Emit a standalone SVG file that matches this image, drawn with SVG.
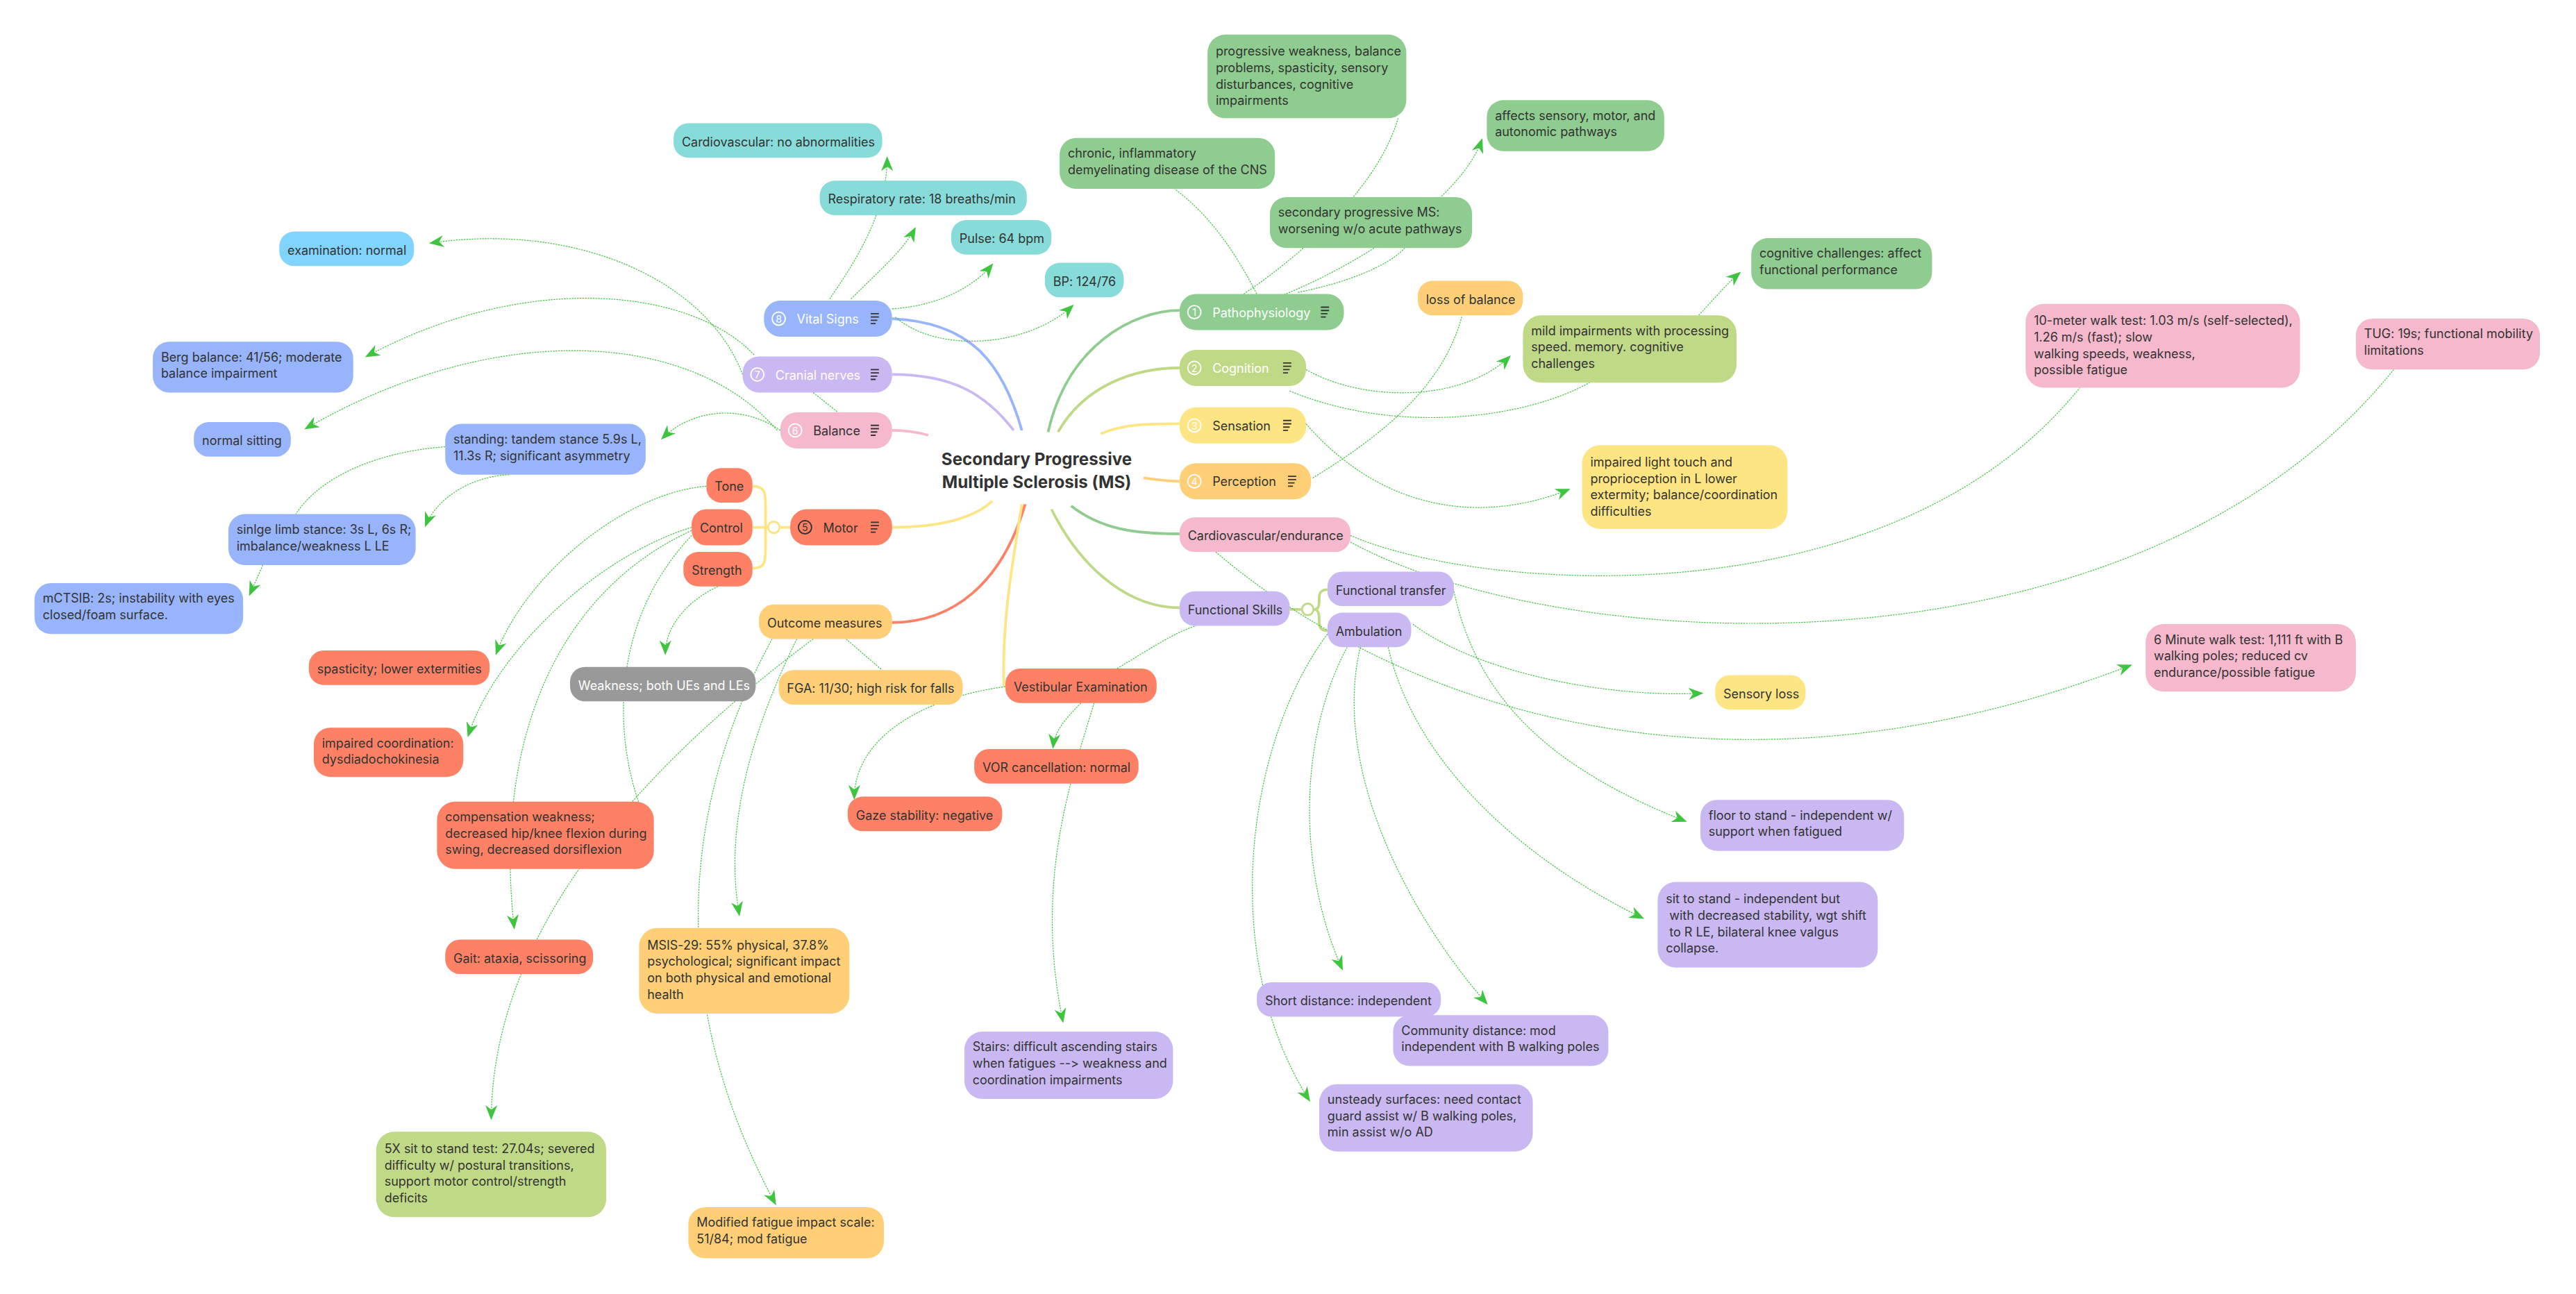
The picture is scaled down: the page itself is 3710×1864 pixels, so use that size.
<svg xmlns="http://www.w3.org/2000/svg" width="3710" height="1864" viewBox="0 0 3710 1864">
<style>
text{font-family:Inter,"Noto Sans","Liberation Sans",sans-serif;font-size:7.6px;fill:#333;font-feature-settings:"calt" 0,"liga" 0}
.w{fill:#fff}
.t{fill:#87dbd9}.lb{fill:#80d4fd}.b{fill:#98b4fb}.p{fill:#c9b8f2}.pk{fill:#f5b8cc}.s{fill:#fe8165}.o{fill:#fecf77}.g{fill:#8fcc8f}.lg{fill:#c0d987}.y{fill:#fee583}.gr{fill:#999}
.d{fill:none;stroke:#3ec43e;stroke-width:0.5;stroke-dasharray:1 0.6}
.a{marker-end:url(#ar)}
.br{fill:none;stroke-width:1.6}
.num{fill:none;stroke:#fff;stroke-width:0.8}
.ic{stroke:#333;stroke-width:0.8}
</style>
<defs>
<marker id="ar" viewBox="0 0 10 10" refX="9" refY="5" markerWidth="9" markerHeight="9" orient="auto" markerUnits="userSpaceOnUse"><path d="M0,1 L10,5 L0,9 L3,5 Z" fill="#3ec43e"/></marker>
</defs>
<rect width="3710" height="1864" fill="#fff"/>
<g transform="scale(2.3661)">
<g id="connectors">
<path class="br" stroke="#98b4fb" d="M622,262 C610,220 590,196 543,194"/>
<path class="br" stroke="#c9b8f2" d="M617,262 C600,240 580,228 543,228"/>
<path class="br" stroke="#f5b8cc" d="M543,262 C550,262 558,263 565,265"/>
<path class="br" stroke="#fee583" d="M604,305 C590,318 565,321 543,321"/>
<path class="br" stroke="#fe8165" d="M624,307 C610,355 580,379 543,379"/>
<path class="br" stroke="#fee583" d="M622,307 C615,350 610,380 611,418"/>
<path class="br" stroke="#8fcc8f" d="M638,263 C650,210 690,189 718,189"/>
<path class="br" stroke="#c0d987" d="M644,263 C660,235 690,224 718,224"/>
<path class="br" stroke="#fee583" d="M670,264 C685,258 700,258 718,258"/>
<path class="br" stroke="#fecf77" d="M696,291 C705,292 710,293 718,293"/>
<path class="br" stroke="#8fcc8f" d="M652,308 C670,322 690,325 718,325"/>
<path class="br" stroke="#c0d987" d="M640,310 C660,350 690,370 718,370"/>
<path class="br" stroke="#fee583" d="M481,321 L475,321 M467,321 L458,321 M458,296 C466,296 466,300 466,310 L466,332 C466,342 466,346 458,346"/>
<circle cx="471" cy="321" r="3.5" fill="#fff" stroke="#fee583" stroke-width="1.2"/>
<path class="br" stroke="#c0d987" d="M785,371 L792,371 M800,371 C803,371 803,368 803,364 C803,360 805,359 808,359 M800,371 C803,371 803,375 803,379 C803,383 805,384 808,384"/>
<circle cx="796" cy="371" r="3.5" fill="#fff" stroke="#c0d987" stroke-width="1.2"/>
<path class="d a" d="M505,182 C520,160 540,130 540,96"/>
<path class="d a" d="M518,182 C535,165 550,152 557,139"/>
<path class="d a" d="M543,188 C575,186 595,172 604,161"/>
<path class="d a" d="M545,193 C570,215 625,212 653,186"/>
<path class="d a" d="M459,216 C420,175 320,165 223,217"/>
<path class="d a" d="M452,228 C430,170 350,135 262,148"/>
<path class="d a" d="M473,262 C420,200 300,195 186,261"/>
<path class="d" d="M495,239 L510,251"/>
<path class="d a" d="M475,262 C450,245 420,250 403,267"/>
<path class="d a" d="M310,289 C285,290 265,305 259,320"/>
<path class="d" d="M271,272 C230,275 195,290 180,313"/>
<path class="d a" d="M160,344 L152,362"/>
<path class="d a" d="M430,296 C380,300 320,350 302,398"/>
<path class="d a" d="M421,321 C360,340 300,400 285,448"/>
<path class="d a" d="M421,323 C340,360 300,450 313,565"/>
<path class="d" d="M421,326 C370,380 375,450 389,489"/>
<path class="d a" d="M437,357 C420,365 405,380 405,398"/>
<path class="d a" d="M495,389 C400,460 300,560 299,681"/>
<path class="d a" d="M485,389 C460,440 440,500 450,557"/>
<path class="d a" d="M470,389 C420,480 400,600 472,733"/>
<path class="d" d="M515,389 L537,408"/>
<path class="d a" d="M612,418 C560,425 520,450 520,486"/>
<path class="d a" d="M658,428 C648,438 642,445 641,455"/>
<path class="d a" d="M666,428 C650,480 630,540 647,622"/>
<path class="d" d="M680,407 C700,395 715,385 728,381"/>
<path class="d" d="M765,179 C750,150 735,130 715,115"/>
<path class="d" d="M757,179 C800,150 840,110 851,72"/>
<path class="d a" d="M780,180 C830,160 890,120 902,85"/>
<path class="d" d="M790,178 C820,172 845,162 855,151"/>
<path class="d a" d="M795,225 C830,245 890,245 919,217"/>
<path class="d" d="M785,238 C850,265 930,255 969,232"/>
<path class="d a" d="M1034,192 C1045,180 1052,172 1059,166"/>
<path class="d" d="M799,291 C850,260 880,230 890,192"/>
<path class="d a" d="M795,258 C840,310 900,320 955,298"/>
<path class="d" d="M822,326 C900,360 1150,380 1266,236"/>
<path class="d" d="M822,330 C950,400 1300,420 1457,225"/>
<path class="d a" d="M740,336 C850,430 1050,500 1297,405"/>
<path class="d a" d="M860,380 C900,410 980,425 1036,422"/>
<path class="d a" d="M885,360 C900,430 950,470 1026,500"/>
<path class="d a" d="M845,394 C860,460 920,520 1000,559"/>
<path class="d a" d="M828,394 C810,470 860,560 905,611"/>
<path class="d a" d="M820,394 C790,450 790,530 817,590"/>
<path class="d a" d="M808,386 C760,450 740,580 797,670"/>
</g>
<g id="center"><text x="631" y="283" text-anchor="middle" style="font-size:10.2px;font-weight:700">Secondary Progressive</text><text x="631" y="297" text-anchor="middle" style="font-size:10.2px;font-weight:700">Multiple Sclerosis (MS)</text></g>
<g id="vital"><rect class="b" x="465" y="183" width="78" height="22" rx="10"/><circle class="num" cx="474" cy="194" r="4"/><text class="w" x="474" y="196.5" text-anchor="middle" style="font-size:6px">8</text><text class="w" x="485" y="197">Vital Signs</text><path class="ic" d="M530,191h5M530,193h5M530,195h4M530,197h3"/></g>
<g id="cranial"><rect class="p" x="452" y="217" width="91" height="22" rx="10"/><circle class="num" cx="461" cy="228" r="4"/><text class="w" x="461" y="230.5" text-anchor="middle" style="font-size:6px">7</text><text class="w" x="472" y="231">Cranial nerves</text><path class="ic" d="M530,225h5M530,227h5M530,229h4M530,231h3"/></g>
<g id="balance"><rect class="pk" x="475" y="251" width="68" height="22" rx="10"/><circle class="num" cx="484" cy="262" r="4"/><text class="w" x="484" y="264.5" text-anchor="middle" style="font-size:6px">6</text><text x="495" y="265">Balance</text><path class="ic" d="M530,259h5M530,261h5M530,263h4M530,265h3"/></g>
<g id="motor"><rect class="s" x="481" y="310" width="62" height="22" rx="10"/><circle cx="490" cy="321" r="4" fill="none" stroke="#333" stroke-width="0.8"/><text x="490" y="323.5" text-anchor="middle" style="font-size:6px">5</text><text x="501" y="324">Motor</text><path class="ic" d="M530,318h5M530,320h5M530,322h4M530,324h3"/></g>
<g id="tone"><rect class="s" x="430" y="285" width="28" height="21" rx="9"/><text x="435" y="299">Tone</text></g>
<g id="control"><rect class="s" x="421" y="310" width="37" height="22" rx="9"/><text x="426" y="324">Control</text></g>
<g id="strength"><rect class="s" x="416" y="336" width="42" height="21" rx="9"/><text x="421" y="350">Strength</text></g>
<g id="outcome"><rect class="o" x="462" y="368" width="81" height="21" rx="9"/><text x="467" y="382">Outcome measures</text></g>
<g id="patho"><rect class="g" x="718" y="179" width="100" height="22" rx="10"/><circle class="num" cx="727" cy="190" r="4"/><text class="w" x="727" y="192.5" text-anchor="middle" style="font-size:6px">1</text><text class="w" x="738" y="193">Pathophysiology</text><path class="ic" d="M804,187h5M804,189h5M804,191h4M804,193h3"/></g>
<g id="cognition"><rect class="lg" x="718" y="213" width="77" height="22" rx="10"/><circle class="num" cx="727" cy="224" r="4"/><text class="w" x="727" y="226.5" text-anchor="middle" style="font-size:6px">2</text><text class="w" x="738" y="227">Cognition</text><path class="ic" d="M781,221h5M781,223h5M781,225h4M781,227h3"/></g>
<g id="sensation"><rect class="y" x="718" y="248" width="77" height="22" rx="10"/><circle class="num" cx="727" cy="259" r="4"/><text class="w" x="727" y="261.5" text-anchor="middle" style="font-size:6px">3</text><text x="738" y="262">Sensation</text><path class="ic" d="M781,256h5M781,258h5M781,260h4M781,262h3"/></g>
<g id="perception"><rect class="o" x="718" y="282" width="80" height="22" rx="10"/><circle class="num" cx="727" cy="293" r="4"/><text class="w" x="727" y="295.5" text-anchor="middle" style="font-size:6px">4</text><text x="738" y="296">Perception</text><path class="ic" d="M784,290h5M784,292h5M784,294h4M784,296h3"/></g>
<g id="cardio"><rect class="pk" x="718" y="315" width="104" height="21" rx="9"/><text x="723" y="329">Cardiovascular/endurance</text></g>
<g id="functional"><rect class="p" x="718" y="360" width="67" height="21" rx="9"/><text x="723" y="374">Functional Skills</text></g>
<g id="ftransfer"><rect class="p" x="808" y="348" width="77" height="21" rx="9"/><text x="813" y="362">Functional transfer</text></g>
<g id="ambulation"><rect class="p" x="808" y="373" width="51" height="21" rx="9"/><text x="813" y="387">Ambulation</text></g>
<g id="vestibular"><rect class="s" x="612" y="407" width="92" height="21" rx="9"/><text x="617" y="421">Vestibular Examination</text></g>
<g id="cvnorm"><rect class="t" x="410" y="75" width="127" height="21" rx="9"/><text x="415" y="89">Cardiovascular: no abnormalities</text></g>
<g id="resp"><rect class="t" x="499" y="110" width="126" height="21" rx="9"/><text x="504" y="124">Respiratory rate: 18 breaths/min</text></g>
<g id="pulse"><rect class="t" x="579" y="134" width="61" height="21" rx="9"/><text x="584" y="148">Pulse: 64 bpm</text></g>
<g id="bp"><rect class="t" x="636" y="160" width="48" height="21" rx="9"/><text x="641" y="174">BP: 124/76</text></g>
<g id="exam"><rect class="lb" x="170" y="141" width="82" height="21" rx="9"/><text x="175" y="155">examination: normal</text></g>
<g id="berg"><rect class="b" x="93" y="208" width="122" height="31" rx="10"/><text x="98" y="220">Berg balance: 41/56; moderate</text><text x="98" y="230">balance impairment</text></g>
<g id="sitting"><rect class="b" x="118" y="257" width="59" height="21" rx="9"/><text x="123" y="271">normal sitting</text></g>
<g id="standing"><rect class="b" x="271" y="258" width="122" height="31" rx="10"/><text x="276" y="270">standing: tandem stance 5.9s L,</text><text x="276" y="280">11.3s R; significant asymmetry</text></g>
<g id="single"><rect class="b" x="139" y="313" width="114" height="31" rx="10"/><text x="144" y="325">sinlge limb stance: 3s L, 6s R;</text><text x="144" y="335">imbalance/weakness L LE</text></g>
<g id="mctsib"><rect class="b" x="21" y="355" width="127" height="31" rx="10"/><text x="26" y="367">mCTSIB: 2s; instability with eyes</text><text x="26" y="377">closed/foam surface.</text></g>
<g id="spasticity"><rect class="s" x="188" y="396" width="110" height="21" rx="9"/><text x="193" y="410">spasticity; lower extermities</text></g>
<g id="coord"><rect class="s" x="191" y="443" width="91" height="30" rx="10"/><text x="196" y="455">impaired coordination:</text><text x="196" y="465">dysdiadochokinesia</text></g>
<g id="weakness"><rect class="gr" x="347" y="406" width="113" height="21" rx="9"/><text class="w" x="352" y="420">Weakness; both UEs and LEs</text></g>
<g id="fga"><rect class="o" x="474" y="408" width="112" height="21" rx="9"/><text x="479" y="422">FGA: 11/30; high risk for falls</text></g>
<g id="vor"><rect class="s" x="593" y="456" width="100" height="21" rx="9"/><text x="598" y="470">VOR cancellation: normal</text></g>
<g id="gaze"><rect class="s" x="516" y="485" width="94" height="21" rx="9"/><text x="521" y="499">Gaze stability: negative</text></g>
<g id="comp"><rect class="s" x="266" y="488" width="132" height="41" rx="11"/><text x="271" y="500">compensation weakness;</text><text x="271" y="510">decreased hip/knee flexion during</text><text x="271" y="520">swing, decreased dorsiflexion</text></g>
<g id="gait"><rect class="s" x="271" y="572" width="90" height="21" rx="9"/><text x="276" y="586">Gait: ataxia, scissoring</text></g>
<g id="msis"><rect class="o" x="389" y="565" width="128" height="52" rx="11"/><text x="394" y="578">MSIS-29: 55% physical, 37.8%</text><text x="394" y="588">psychological; significant impact</text><text x="394" y="598">on both physical and emotional</text><text x="394" y="608">health</text></g>
<g id="fivex"><rect class="lg" x="229" y="689" width="140" height="52" rx="11"/><text x="234" y="702">5X sit to stand test: 27.04s; severed</text><text x="234" y="712">difficulty w/ postural transitions,</text><text x="234" y="722">support motor control/strength</text><text x="234" y="732">deficits</text></g>
<g id="mfis"><rect class="o" x="419" y="735" width="119" height="31" rx="10"/><text x="424" y="747">Modified fatigue impact scale:</text><text x="424" y="757">51/84; mod fatigue</text></g>
<g id="stairs"><rect class="p" x="587" y="628" width="127" height="41" rx="11"/><text x="592" y="640">Stairs: difficult ascending stairs</text><text x="592" y="650">when fatigues --&gt; weakness and</text><text x="592" y="660">coordination impairments</text></g>
<g id="short"><rect class="p" x="765" y="598" width="112" height="21" rx="9"/><text x="770" y="612">Short distance: independent</text></g>
<g id="community"><rect class="p" x="848" y="618" width="131" height="31" rx="10"/><text x="853" y="630">Community distance: mod</text><text x="853" y="640">independent with B walking poles</text></g>
<g id="unsteady"><rect class="p" x="803" y="660" width="130" height="41" rx="11"/><text x="808" y="672">unsteady surfaces: need contact</text><text x="808" y="682">guard assist w/ B walking poles,</text><text x="808" y="692">min assist w/o AD</text></g>
<g id="sitstand"><rect class="p" x="1009" y="537" width="134" height="52" rx="11"/><text x="1014" y="550">sit to stand - independent but</text><text x="1014" y="560" xml:space="preserve"> with decreased stability, wgt shift</text><text x="1014" y="570" xml:space="preserve"> to R LE, bilateral knee valgus</text><text x="1014" y="580">collapse.</text></g>
<g id="floor"><rect class="p" x="1035" y="487" width="124" height="31" rx="10"/><text x="1040" y="499">floor to stand - independent w/</text><text x="1040" y="509">support when fatigued</text></g>
<g id="sensory"><rect class="y" x="1044" y="411" width="55" height="21" rx="9"/><text x="1049" y="425">Sensory loss</text></g>
<g id="sixmin"><rect class="pk" x="1306" y="380" width="128" height="41" rx="11"/><text x="1311" y="392">6 Minute walk test: 1,111 ft with B</text><text x="1311" y="402">walking poles; reduced cv</text><text x="1311" y="412">endurance/possible fatigue</text></g>
<g id="tenm"><rect class="pk" x="1233" y="185" width="167" height="51" rx="11"/><text x="1238" y="198">10-meter walk test: 1.03 m/s (self-selected),</text><text x="1238" y="208">1.26 m/s (fast); slow</text><text x="1238" y="218">walking speeds, weakness,</text><text x="1238" y="228">possible fatigue</text></g>
<g id="tug"><rect class="pk" x="1434" y="194" width="112" height="31" rx="10"/><text x="1439" y="206">TUG: 19s; functional mobility</text><text x="1439" y="216">limitations</text></g>
<g id="light"><rect class="y" x="963" y="271" width="125" height="51" rx="11"/><text x="968" y="284">impaired light touch and</text><text x="968" y="294">proprioception in L lower</text><text x="968" y="304">extermity; balance/coordination</text><text x="968" y="314">difficulties</text></g>
<g id="cogch"><rect class="g" x="1066" y="145" width="110" height="31" rx="10"/><text x="1071" y="157">cognitive challenges: affect</text><text x="1071" y="167">functional performance</text></g>
<g id="mild"><rect class="lg" x="927" y="192" width="130" height="41" rx="11"/><text x="932" y="204">mild impairments with processing</text><text x="932" y="214">speed. memory. cognitive</text><text x="932" y="224">challenges</text></g>
<g id="lossbal"><rect class="o" x="863" y="171" width="64" height="21" rx="9"/><text x="868" y="185">loss of balance</text></g>
<g id="progw"><rect class="g" x="735" y="21" width="121" height="51" rx="11"/><text x="740" y="34">progressive weakness, balance</text><text x="740" y="44">problems, spasticity, sensory</text><text x="740" y="54">disturbances, cognitive</text><text x="740" y="64">impairments</text></g>
<g id="chronic"><rect class="g" x="645" y="84" width="131" height="31" rx="10"/><text x="650" y="96">chronic, inflammatory</text><text x="650" y="106">demyelinating disease of the CNS</text></g>
<g id="affects"><rect class="g" x="905" y="61" width="108" height="31" rx="10"/><text x="910" y="73">affects sensory, motor, and</text><text x="910" y="83">autonomic pathways</text></g>
<g id="spms"><rect class="g" x="773" y="120" width="123" height="31" rx="10"/><text x="778" y="132">secondary progressive MS:</text><text x="778" y="142">worsening w/o acute pathways</text></g>
</g>
</svg>
